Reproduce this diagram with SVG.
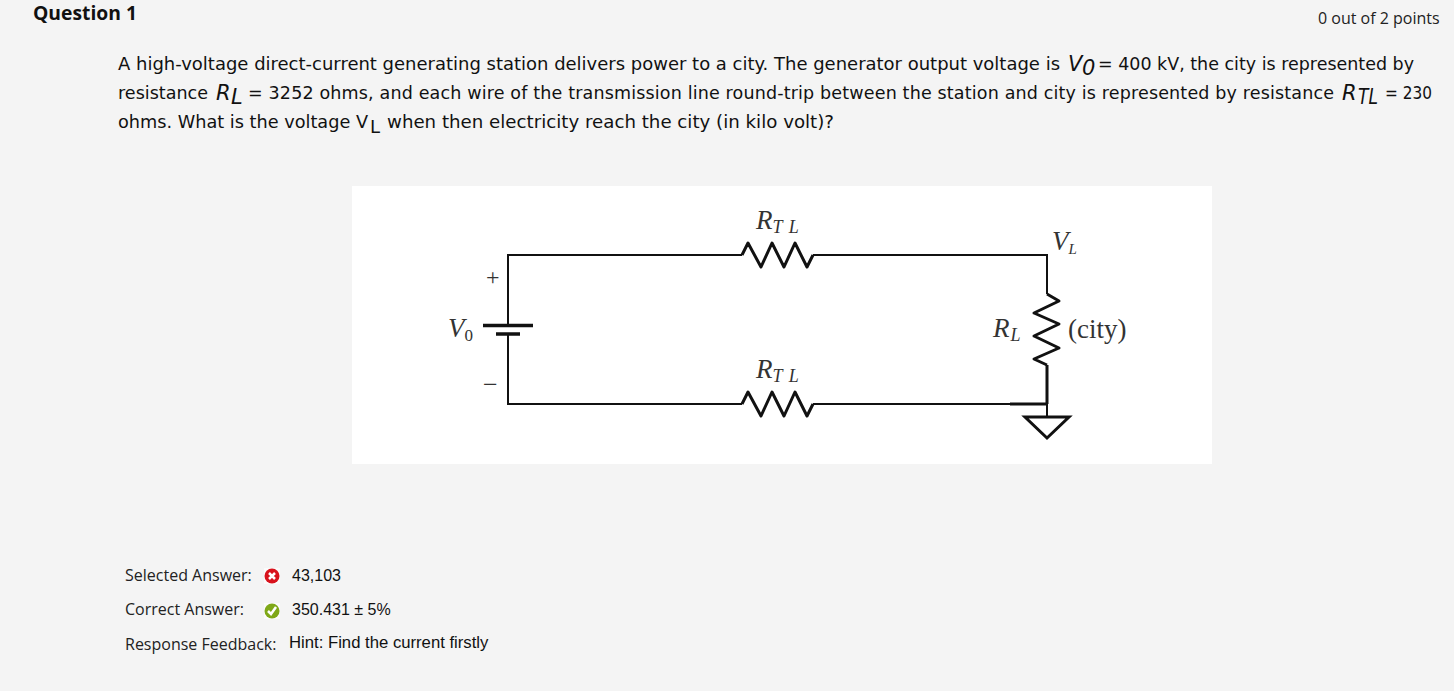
<svg xmlns="http://www.w3.org/2000/svg" width="1454" height="691" viewBox="0 0 1454 691">
<style>
.q{font-family:"DejaVu Sans",Verdana,sans-serif;font-size:18px;fill:#111;}
.l2{font-size:17.500px;}
.b{font-family:"Open Sans",sans-serif;font-weight:700;font-size:19px;}
.s{font-style:italic;font-size:21px;}
.u{font-family:"Open Sans",sans-serif;font-size:16px;fill:#222;}
.a{font-family:"Liberation Sans",Arial,sans-serif;font-size:16px;fill:#111;}
.h{font-size:16.700px;}
.m{font-family:"Liberation Serif",serif;fill:#333;font-size:27px;}
.p{font-size:24px;}
.n{font-size:26px;}
.mi{font-style:italic;}
.w{fill:none;stroke:#111;stroke-width:2;}
.r{fill:none;stroke:#111;stroke-width:3;stroke-linejoin:round;}
</style>
<rect width="1454" height="691" fill="#f4f4f4"/>
<text class="q b" x="33" y="20" textLength="104" lengthAdjust="spacingAndGlyphs">Question 1</text>
<text class="u" x="1318" y="24">0 out of 2 points</text>
<text class="q" x="118" y="70" textLength="942" lengthAdjust="spacingAndGlyphs">A high-voltage direct-current generating station delivers power to a city. The generator output voltage is</text>
<text class="q s" x="1068" y="71">V</text><text class="q s" x="1082" y="75">0</text>
<text class="q" x="1098" y="70" textLength="316" lengthAdjust="spacingAndGlyphs">= 400 kV, the city is represented by</text>
<text class="q" x="118" y="99" textLength="90" lengthAdjust="spacingAndGlyphs">resistance</text>
<text class="q s" x="216" y="100">R</text><text class="q s" x="231" y="104">L</text>
<text class="q l2" x="248" y="99" textLength="1086" lengthAdjust="spacing">= 3252 ohms, and each wire of the transmission line round-trip between the station and city is represented by resistance</text>
<text class="q s" x="1342" y="100">R</text><text class="q s" x="1358" y="104" textLength="20" lengthAdjust="spacingAndGlyphs">TL</text>
<text class="q" x="1385" y="99" textLength="47" lengthAdjust="spacingAndGlyphs">= 230</text>
<text class="q" x="118" y="128" textLength="250" lengthAdjust="spacingAndGlyphs">ohms. What is the voltage V</text>
<text class="q" x="370" y="133">L</text>
<text class="q" x="387" y="128" textLength="447" lengthAdjust="spacingAndGlyphs">when then electricity reach the city (in kilo volt)?</text>
<rect x="352" y="186" width="860" height="278" fill="#fff"/>
<g id="connectors">
<path class="w" d="M742 255H508V325M508 334V404H742M813 255H1047V294M813 404H1010"/>
<path class="r" d="M1010 404H1047M1047 365V404"/>
<path class="w" d="M1047 404V417"/>
</g>
<g id="battery">
<path d="M483 325.500H533" stroke="#111" stroke-width="3.500"/>
<path d="M496 334H520" stroke="#111" stroke-width="3.500"/>
<text class="m" x="448" y="337"><tspan class="mi">V</tspan><tspan font-size="17" dy="4">0</tspan></text>
<text class="m p" x="486" y="285">+</text>
<text class="m n" x="483" y="393">−</text>
</g>
<g id="rtl-top">
<path class="r" d="M742 255L748 243L761 267L772 243L784 267L795 243L807 267L813 255"/>
<text class="m" x="756" y="229"><tspan class="mi">R</tspan><tspan class="mi" font-size="18" dy="4" letter-spacing="1">T L</tspan></text>
</g>
<g id="rtl-bottom">
<path class="r" d="M742 404L748 392L761 416L772 392L784 416L795 392L807 416L813 404"/>
<text class="m" x="756" y="378"><tspan class="mi">R</tspan><tspan class="mi" font-size="18" dy="4" letter-spacing="1">T L</tspan></text>
</g>
<g id="rl">
<path class="r" d="M1047 294L1059 301L1034 313L1059 324L1034 336L1059 348L1034 359L1047 365"/>
<text class="m" x="993" y="337"><tspan class="mi">R</tspan><tspan class="mi" font-size="18" dy="4" dx="1">L</tspan></text>
<text class="m" x="1068" y="338">(city)</text>
</g>
<g id="vl">
<text class="m" x="1052" y="250"><tspan class="mi">V</tspan><tspan class="mi" font-size="15" dy="4">L</tspan></text>
</g>
<g id="ground">
<path d="M1025 417H1069L1047 438Z" fill="none" stroke="#111" stroke-width="3"/>
</g>
<text class="u" x="125" y="581">Selected Answer:</text>
<rect x="264" y="568" width="16" height="16" fill="#fbfbfb"/>
<circle cx="272" cy="576" r="7.500" fill="#d8121c"/>
<path d="M269 573L275 579M275 573L269 579" stroke="#fff" stroke-width="2.500"/>
<text class="a" x="292" y="581">43,103</text>
<text class="u" x="125" y="615">Correct Answer:</text>
<rect x="264" y="603" width="16" height="16" fill="#fbfbfb"/>
<circle cx="272" cy="611" r="7.500" fill="#7fa818"/>
<path d="M268 611L271 614L276 607" stroke="#fff" stroke-width="2.500" fill="none"/>
<text class="a" x="292" y="615">350.431 ± 5%</text>
<text class="u" x="125" y="650">Response Feedback:</text>
<text class="a h" x="289" y="648">Hint: Find the current firstly</text>
</svg>
